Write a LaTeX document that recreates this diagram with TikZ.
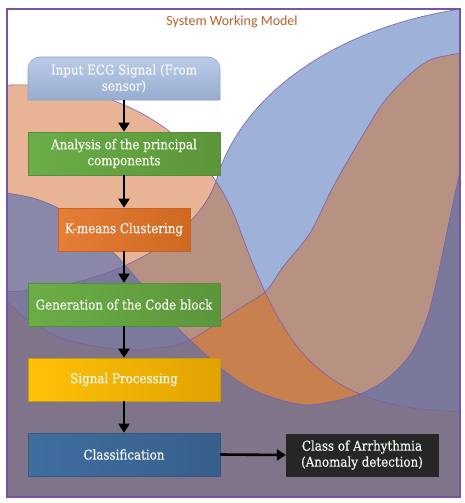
\documentclass[tikz,border=0pt]{standalone}
\usepackage{fontspec}
\setmainfont{DejaVu Serif}
\newfontfamily\boxfont{DejaVu Serif}[FakeStretch=0.88,FakeBold=0.5]
\newfontfamily\titlefont{Carlito}
\usetikzlibrary{arrows.meta,calc}
\definecolor{cSalmon}{HTML}{E9B496}
\definecolor{cBlue}{HTML}{9DB1D9}
\definecolor{cBrown}{HTML}{B79282}
\definecolor{cDarkOr}{HTML}{C8804F}
\definecolor{cGB}{HTML}{8A88A9}
\definecolor{cGBtwo}{HTML}{7B7A9C}
\definecolor{cGP}{HTML}{80748A}
\definecolor{cSL}{HTML}{7A789B}
\definecolor{cLine}{HTML}{7D5FA8}
\definecolor{cFrame}{HTML}{7A52A6}
\definecolor{cTitle}{HTML}{B4622E}
\definecolor{inTop}{HTML}{BACBE7}
\definecolor{inBot}{HTML}{97ADD0}
\definecolor{inBorder}{HTML}{8EA4C8}
\definecolor{grL}{HTML}{6BAD47}
\definecolor{grR}{HTML}{5B963A}
\definecolor{grB}{HTML}{5A8C3C}
\definecolor{orL}{HTML}{E67D36}
\definecolor{orR}{HTML}{CF6821}
\definecolor{orB}{HTML}{C0642A}
\definecolor{yeL}{HTML}{FFC107}
\definecolor{yeR}{HTML}{E0A300}
\definecolor{yeB}{HTML}{C89A10}
\definecolor{blL}{HTML}{3F6E9F}
\definecolor{blR}{HTML}{375F8C}
\definecolor{blB}{HTML}{34597F}
\definecolor{dkF}{HTML}{262626}
\definecolor{boxText}{HTML}{F4F6EE}
\begin{document}
\begin{tikzpicture}[x=1pt,y=-1pt,
  boxtext/.style={text=boxText,align=center,inner sep=0pt,
    font=\boxfont\fontsize{13.5}{16}\selectfont},
  widebox/.style={boxtext,minimum width=192pt,minimum height=43pt},
  greenbox/.style={widebox,left color=grL,right color=grR,draw=grB,line width=0.6pt},
  bgline/.style={cLine,line width=0.6pt},
  flow/.style={line width=2.6pt,-{Triangle[width=11pt,length=9pt]}}]
\def\CXone{(-5,86) .. controls (110,76) and (205,130) .. (240,230) .. controls (255,272) and (275,320) .. (300,350) .. controls (335,392) and (390,414) .. (475,411)}
\def\CXtwo{(475,7) .. controls (330,25) and (240,100) .. (217,178) .. controls (200,236) and (110,292) .. (-5,292)}
\def\CW{plot[smooth] coordinates {(475,49) (460,53) (430,60) (407,77) (383,103) (360,140) (333,187) (310,233) (283,267) (265,292) (237,310) (190,340) (160,348) (123,350) (67,340) (28,320) (7,302) (-5,290)}}
\def\CV{plot[smooth] coordinates {(-5,190) (7,193) (33,198) (58,208) (85,226) (113,252) (130,271) (155,300) (177,327) (190,340) (227,373) (260,393) (307,405) (357,395) (388,378) (412,352) (428,315) (439,270) (449,222) (460,172) (470,140)}}
\def\RegPone{\CXtwo -- (-5,510) -- (475,510) -- cycle}
\def\RegPtwo{\CXone -- (475,510) -- (-5,510) -- cycle}
\def\RegW{\CW -- (-5,510) -- (475,510) -- cycle}
\def\RegV{\CV -- (475,510) -- (-5,510) -- cycle}
\useasboundingbox (0,0) rectangle (465,503);
\fill[white] (0,0) rectangle (465,503);
% background shapes
\begin{scope}
  \clip (7,9) rectangle (460,497);
  \fill[cSalmon] \RegPtwo;
  \fill[cBlue] \RegPone;
  \begin{scope}\clip \RegPone; \fill[cBrown] \RegPtwo; \end{scope}
  \fill[cBrown] \RegW;
  \begin{scope}\clip \RegW; \fill[cDarkOr] \RegPtwo; \end{scope}
  \begin{scope}
    \clip \RegV;
    \fill[cGB] \RegPtwo;
    \fill[cSL] \RegPone;
    \begin{scope}
      \clip \RegPone;
      \fill[cGBtwo] \RegPtwo;
      \clip \RegPtwo;
      \fill[cGP] \RegW;
    \end{scope}
  \end{scope}
  \draw[bgline] \CXone;
  \draw[bgline] \CXtwo;
  \draw[bgline] \CW;
  \draw[bgline] \CV;
\end{scope}
\draw[cFrame,line width=1.2pt] (7,9) rectangle (460,497);
% title
\node[text=cTitle,font=\titlefont\fontsize{14}{16}\selectfont] (title) at (232,22) {System Working Model};
% input box with rounded top corners
\shade[top color=inTop,bottom color=inBot,draw=inBorder,line width=0.6pt]
  (28,100) -- (28,69) .. controls (28,62.4) and (33.4,57) .. (40,57)
  -- (208,57) .. controls (214.6,57) and (220,62.4) .. (220,69) -- (220,100) -- cycle;
\node[widebox] (in) at (124,78.5) {Input ECG Signal (From\\sensor)};
\node[greenbox] (pca) at (124,153.5) {Analysis of the principal\\components};
\node[boxtext,minimum width=132pt,minimum height=43pt,left color=orL,right color=orR,draw=orB,line width=0.6pt] (km) at (124,229.5) {K-means Clustering};
\node[greenbox] (gen) at (124,304.5) {Generation of the Code block};
\node[widebox,left color=yeL,right color=yeR,draw=yeB,line width=0.6pt] (sp) at (124,379.5) {Signal Processing};
\node[widebox,left color=blL,right color=blR,draw=blB,line width=0.6pt] (cls) at (124,454.5) {Classification};
\node[boxtext,minimum width=152pt,minimum height=42pt,fill=dkF,draw=dkF] (out) at (362,455) {Class of Arrhythmia\\(Anomaly detection)};
% arrows
\draw[flow] (in.south) -- (pca.north);
\draw[flow] (pca.south) -- (km.north);
\draw[flow] (km.south) -- (gen.north);
\draw[flow] (gen.south) -- (sp.north);
\draw[flow] (sp.south) -- (cls.north);
\draw[flow] (cls.east) -- (out.west);
\end{tikzpicture}
\end{document}
